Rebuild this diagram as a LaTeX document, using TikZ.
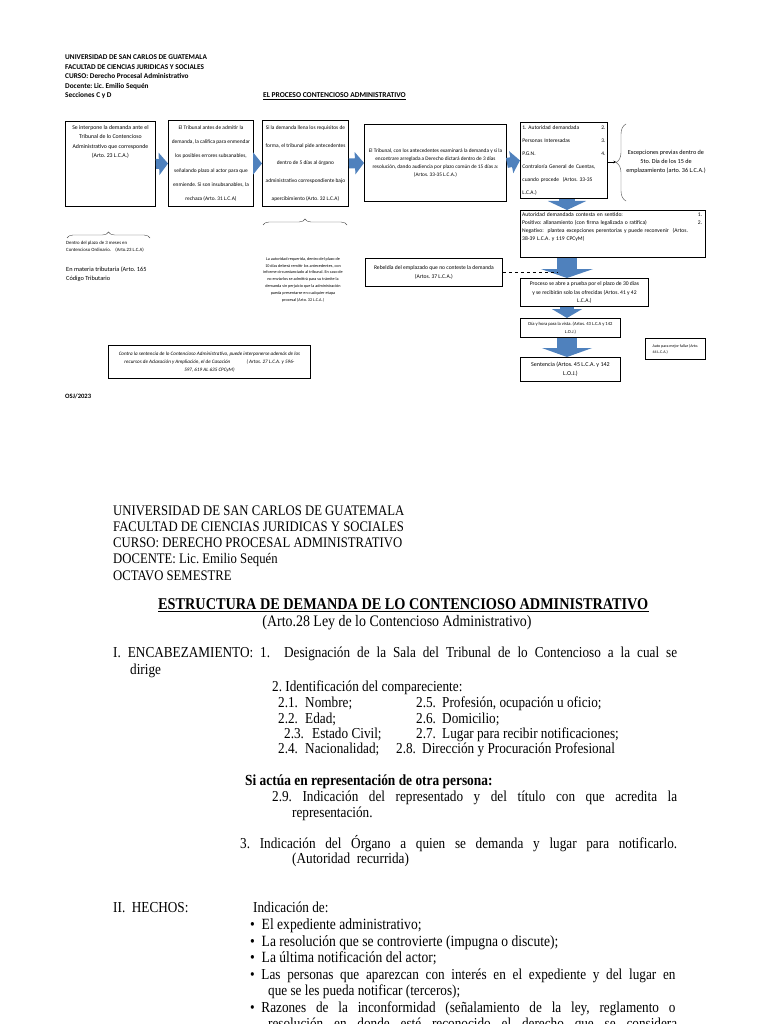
\documentclass[tikz,border=0pt]{standalone}
\usepackage{fontspec}
\setmainfont{Carlito}
\newfontfamily\scanfont[FakeStretch=0.87]{Liberation Serif}
\usetikzlibrary{arrows.meta, decorations.pathreplacing, positioning}
\definecolor{arrowblue}{HTML}{4F81BD}
\frenchspacing

\tikzset{
  box/.style={draw, line width=0.9pt, inner sep=2pt, anchor=north west, align=center},
  txt/.style={inner sep=0pt, align=center},
  head/.style={anchor=base west, inner sep=0pt, font=\bfseries\fontsize{7.3}{8}\selectfont},
  sidearrow/.style={arrowblue, line width=10pt, -{Triangle[width=22pt,length=9pt]}},
  downarrow/.style 2 args={arrowblue, line width=#1, -{Triangle[width=#2,length=9pt]}},
  scan/.style={anchor=base west, inner sep=0pt, font=\scanfont\fontsize{15.2}{17}\selectfont},
  pbrace/.style={decorate, decoration={brace, amplitude=#1}, thin, gray!60!black},
}

\begin{document}
\begin{tikzpicture}[x=1pt, y=-1pt]
\useasboundingbox (0,0) rectangle (768,1024);
\clip (0,0) rectangle (768,1024);

% header of the chart
\foreach \t [count=\i] in {UNIVERSIDAD DE SAN CARLOS DE GUATEMALA, FACULTAD DE CIENCIAS JURIDICAS Y SOCIALES,
    CURSO: Derecho Procesal Administrativo, Docente: Lic. Emilio Sequén, Secciones C y D} {
    \node[head] (h\i) at (65, 50+9.6*\i) {\t};
}
\node[head, font=\bfseries\fontsize{7.5}{8}\selectfont] (chart) at (263,98) {\underline{EL PROCESO CONTENCIOSO ADMINISTRATIVO}};

% first row of steps
\node[box, minimum width=90pt, minimum height=85pt] (b1) at (65,121) {};
\node[txt, anchor=north, font=\fontsize{5.8}{9.4}\selectfont] (b1t) at ([yshift=-4pt]b1.north)
    {Se interpone la demanda ante el\\Tribunal de lo Contencioso\\Administrativo que corresponde\\(Arto. 23 L.C.A.)};
\node[box, minimum width=85pt, minimum height=86pt, font=\fontsize{5.4}{14.3}\selectfont] (b2) at (168,120)
    {El Tribunal antes de admitir la\\demanda, la califica para enmendar\\los posibles errores subsanables,\\señalando plazo al actor para que\\enmiende. Si son insubsanables, la\\rechaza (Arto. 31 L.C.A)};
\node[box, minimum width=86pt, minimum height=86pt, font=\fontsize{5.4}{17.8}\selectfont] (b3) at (262,120)
    {Si la demanda llena los requisitos de\\forma, el tribunal pide antecedentes\\dentro de 5 días al órgano\\administrativo correspondiente bajo\\apercibimiento (Arto. 32 L.C.A)};
\node[box, minimum width=142pt, minimum height=77pt, font=\fontsize{5.3}{8}\selectfont] (b4) at (364,124)
    {El Tribunal, con los antecedentes examinará la demanda y si la\\encontrare arreglada a Derecho dictará dentro de 3 días\\resolución, dando audiencia por plazo común de 15 días a:\\(Artos. 33-35 L.C.A.)};
\node[box, minimum width=87pt, minimum height=76pt, text width=83pt, align=left,
    font=\fontsize{5.5}{13}\selectfont] (b5) at (520,122)
    {1. Autoridad demandada\hfill 2.\hspace*{5pt}\\Personas Interesadas\hfill 3.\hspace*{10pt}\\P.G.N.\hfill 4.\hspace*{10pt}\\Contraloría General de Cuentas,\\cuando procede~~(Artos. 33-35\\L.C.A.)};

\foreach \a/\b in {b1/b2, b2/b3, b3/b4, b4/b5} {
    \draw[sidearrow] (\a.east) -- (\b.west);
}

% exceptions
\draw[pbrace=10pt] (626,201) -- (626,124);
\coordinate (exc) at (616,162);
\draw[-{Stealth[length=2.5pt,width=2.5pt]}, thin] (b5.east |- exc) -- (exc);
\node[txt, font=\fontsize{6.2}{9}\selectfont] (exct) at (666,162)
    {Excepciones previas dentro de\\5to. Día de los 15 de\\emplazamiento (arto. 36 L.C.A.)};

% notes under the first row
\draw[pbrace=6pt] (67,238) -- (150,238);
\node[anchor=north west, inner sep=0pt, align=left, font=\fontsize{4.8}{7}\selectfont] (n1) at (66,241)
    {Dentro del plazo de 3 meses en\\Contencioso Ordinario.~~~~(Arto.23 L.C.A)};
\node[anchor=north west, inner sep=0pt, align=left, font=\fontsize{6.3}{9}\selectfont] (n2) at (66,267)
    {En materia tributaria (Arto. 165\\Código Tributario};
\draw[pbrace=6pt] (263,225) -- (347,225);
\node[txt, anchor=north, font=\fontsize{4.2}{6.9}\selectfont] (n3) at (303,257)
    {La autoridad requerida, dentro del plazo de\\10 días deberá remitir los antecedentes, con\\informe circunstanciado al tribunal. En caso de\\no enviarlos se admitirá para su trámite la\\demanda sin perjuicio que la administración\\pueda presentarse en cualquier etapa\\procesal (Arto. 32 L.C.A.)};

% right column
\node[box, minimum width=185pt, minimum height=47pt] (b6) at (520,210) {};
\node[anchor=north west, inner sep=0pt, text width=180pt, align=left, font=\fontsize{5.6}{8.3}\selectfont] (b6t)
    at ([shift={(2pt,-2pt)}]b6.north west)
    {Autoridad demandada contesta en sentido:\hfill 1.\\Positivo: allanamiento (con firma legalizada o ratifica)\hfill 2.\hspace*{20pt}\\Negativo:~~plantea excepciones perentorias y puede reconvenir~~(Artos.\\38-39 L.C.A. y 119 CPCyM)};
\node[box, minimum width=128pt, minimum height=28pt, font=\fontsize{5.6}{8.5}\selectfont] (b7) at (520,278)
    {Proceso se abre a prueba por el plazo de 30 días\\y se recibirán solo las ofrecidas (Artos. 41 y 42\\L.C.A.)};
\node[box, minimum width=100pt, minimum height=19pt, font=\fontsize{4.6}{8}\selectfont] (b8) at (520,318)
    {Día y hora para la vista. (Artos. 43 L.C.A y 142\\L.O.J.)};
\node[box, minimum width=100pt, minimum height=24pt, font=\fontsize{6}{8.5}\selectfont] (b9) at (520,357)
    {Sentencia (Artos. 45 L.C.A. y 142\\L.O.J.)};
\node[box, minimum width=60pt, minimum height=21pt, align=left, font=\fontsize{4}{6}\selectfont] (b10) at (645,338)
    {Auto para mejor fallar (Arto.\\44 L.C.A.)};

\draw[downarrow={16pt}{38pt}] (b5.south -| 567,0) -- (b6.north -| 567,0);
\draw[downarrow={20pt}{52pt}] (b6.south -| 567,0) -- (b7.north -| 567,0);
\draw[downarrow={14pt}{30pt}] (b7.south -| 567,0) -- (b8.north -| 567,0);
\draw[downarrow={20pt}{50pt}] (b8.south -| 567,0) -- (b9.north -| 567,0);

% default of the defendant
\node[box, minimum width=137pt, minimum height=28pt, font=\fontsize{5.6}{8.5}\selectfont] (reb) at (365,258)
    {Rebeldía del emplazado que no conteste la demanda\\(Artos. 37 L.C.A.)};
\coordinate (rebend) at (557,0);
\draw[dashed, thin] (reb.east) -- (reb.east -| rebend);

% appeals
\node[box, minimum width=202pt, minimum height=33pt, font=\itshape\fontsize{5.1}{8}\selectfont] (cas) at (108,345)
    {Contra la sentencia de lo Contencioso Administrativo, puede interponerse además de los\\recursos de Aclaración y Ampliación, el de Casación~~~~~~~~~~~~~~( Artos. 27 L.C.A. y 596-\\597, 619 AL 635 CPCyM)};
\node[head, font=\bfseries\fontsize{6.6}{8}\selectfont] (osj) at (65,398) {OSJ/2023};

% scanned page
\foreach \t [count=\i] in {UNIVERSIDAD DE SAN CARLOS DE GUATEMALA, FACULTAD DE CIENCIAS JURIDICAS Y SOCIALES,
    CURSO: DERECHO PROCESAL ADMINISTRATIVO, DOCENTE: Lic. Emilio Sequén, OCTAVO SEMESTRE} {
    \node[scan, font=\scanfont\fontsize{14.6}{17}\selectfont] (s\i) at (113, 499+16.2*\i) {\t};
}
\node[scan, font=\scanfont\bfseries\fontsize{16.4}{17}\selectfont] (title) at (158,609)
    {ESTRUCTURA DE DEMANDA DE LO CONTENCIOSO ADMINISTRATIVO};
\draw[line width=1.4pt] ([yshift=-2pt]title.south west) -- ([yshift=-2pt]title.south east);
\node[scan, anchor=base, font=\scanfont\fontsize{16}{17}\selectfont] (ley) at (397,626)
    {(Arto.28 Ley de lo Contencioso Administrativo)};

\node[scan] (enc) at (113,657) {\makebox[564pt][s]{I. ENCABEZAMIENTO: 1.~~Designación de la Sala del Tribunal de lo Contencioso a la cual se}};
\node[scan] (enc2) at (130,674) {dirige};
\node[scan] (id) at (272,691) {2. Identificación del compareciente:};
\foreach \na/\xa/\nb/\xb/\nc/\xc/\nd/\xd/\yy in {
    2.1./278/Nombre;/305/2.5./416/{Profesión, ocupación u oficio;}/442/707,
    2.2./278/Edad;/305/2.6./416/Domicilio;/442/723,
    2.3./284/Estado Civil;/312/2.7./416/Lugar para recibir notificaciones;/442/738,
    2.4./278/Nacionalidad;/305/2.8./396/Dirección y Procuración Profesional/422/753} {
    \node[scan] at (\xa,\yy) {\na};
    \node[scan] at (\xb,\yy) {\nb};
    \node[scan] at (\xc,\yy) {\nc};
    \node[scan] at (\xd,\yy) {\nd};
}
\node[scan, font=\scanfont\bfseries\fontsize{15.4}{17}\selectfont] (rep) at (245,785) {Si actúa en representación de otra persona:};
\node[scan] (r1) at (272,801) {\makebox[405pt][s]{2.9. Indicación del representado y del título con que acredita la}};
\node[scan] (r2) at (292,817) {representación.};
\node[scan] (org) at (240,848) {\makebox[437pt][s]{3. Indicación del Órgano a quien se demanda y lugar para notificarlo.}};
\node[scan] (org2) at (292,863) {(Autoridad~~recurrida)};

\node[scan] (hec) at (113,912) {II.~~HECHOS:};
\node[scan] (hec0) at (253,912) {Indicación de:};
\foreach \t/\yy in {El expediente administrativo;/929, La resolución que se controvierte (impugna o discute);/946,
    La última notificación del actor;/962} {
    \node[scan, font=\scanfont\fontsize{15.6}{17}\selectfont] at (250,\yy) {•~~\t};
}
\node[scan] (p1) at (250,979) {•~~\makebox[414pt][s]{Las personas que aparezcan con interés en el expediente y del lugar en}};
\node[scan] (p2) at (268,995) {que se les pueda notificar (terceros);};
\node[scan] (p3) at (250,1012) {•~~\makebox[414pt][s]{Razones de la inconformidad (señalamiento de la ley, reglamento o}};
\node[scan] (p4) at (268,1028) {\makebox[409pt][s]{resolución en donde esté reconocido el derecho que se considera}};
\end{tikzpicture}
\end{document}
